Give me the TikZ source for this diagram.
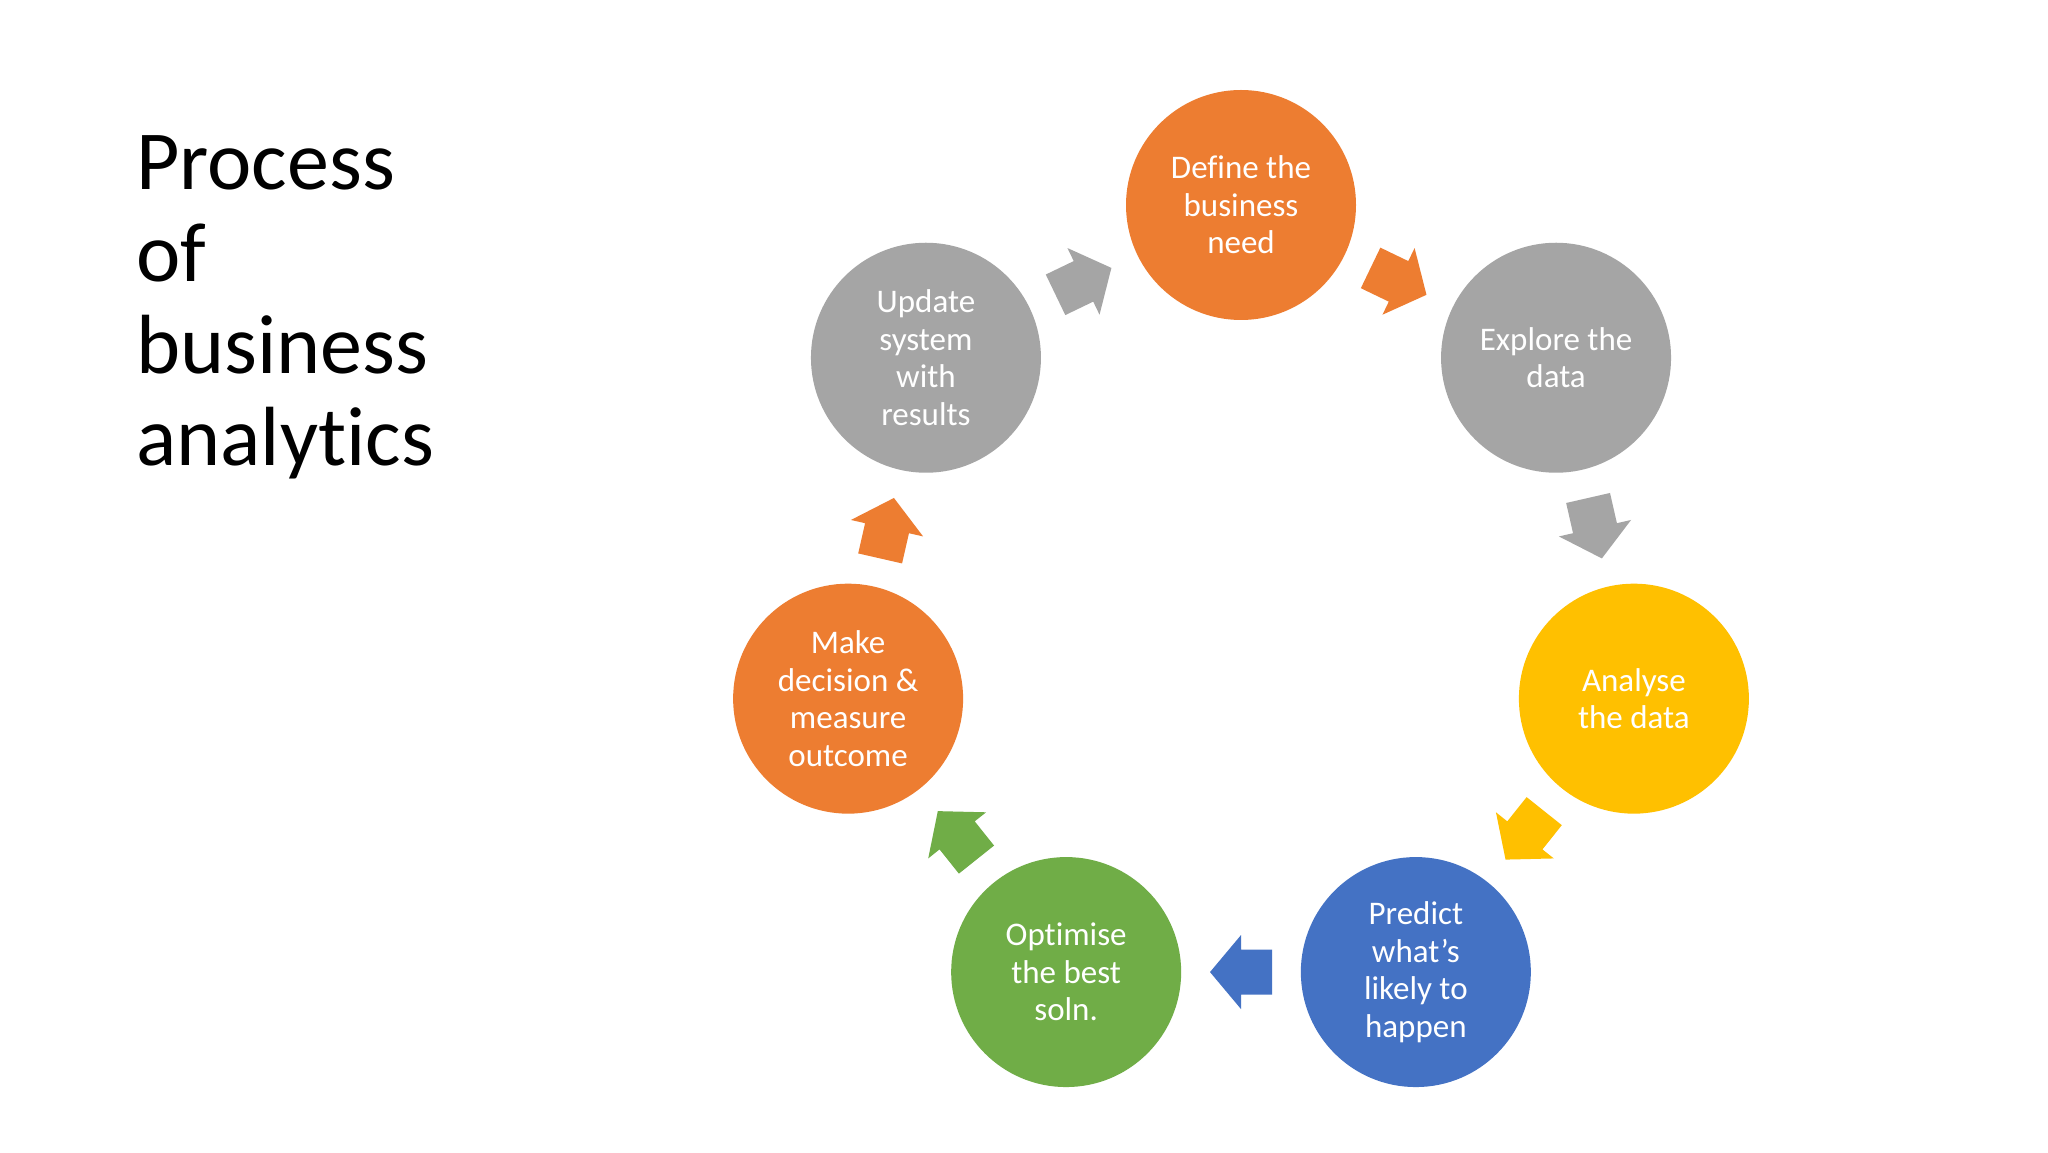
\documentclass[tikz,border=0pt]{standalone}
\usepackage{fontspec}
\setmainfont[Ligatures=NoCommon]{Carlito}
\usetikzlibrary{calc}
\definecolor{orng}{HTML}{ED7D31}
\definecolor{gry}{HTML}{A5A5A5}
\definecolor{yel}{HTML}{FFC000}
\definecolor{blu}{HTML}{4472C4}
\definecolor{grn}{HTML}{70AD47}
\tikzset{
  stepcircle/.style={circle, minimum size=230pt, inner sep=0pt, fill=#1, text=white,
    font=\fontsize{33}{37.5}\selectfont, align=center},
  titletext/.style={font=\fontsize{84}{92}\selectfont, align=left, inner sep=0pt, text=black}
}
\begin{document}
\begin{tikzpicture}[x=1pt,y=1pt]
\useasboundingbox[fill=white] (0,0) rectangle (2048,1152);
\coordinate (c) at (1241,543);
\node[titletext, anchor=north west] (title) at (136,1017) {Process\\of\\business\\analytics};
\node[stepcircle=orng] (def) at ($(c)+(90:403)+(0,1)$) {Define the\\business\\need};
\node[stepcircle=gry]  (exp) at ($(c)+(38.5714:403)$) {Explore the\\data};
\node[stepcircle=yel]  (ana) at ($(c)+(-12.8571:403)$) {Analyse\\the data};
\node[stepcircle=blu]  (pre) at ($(c)+(-64.2857:403)$) {Predict\\what’s\\likely to\\happen};
\node[stepcircle=grn]  (opt) at ($(c)+(-115.7143:403)$) {Optimise\\the best\\soln.};
\node[stepcircle=orng] (mak) at ($(c)+(-167.1429:403)$) {Make\\decision \&\\measure\\outcome};
\node[stepcircle=gry]  (upd) at ($(c)+(-218.5714:403)$) {Update\\system\\with\\results};
\foreach \i/\j/\col [count=\k from 0] in {def/exp/orng, exp/ana/gry, ana/pre/yel, pre/opt/blu, opt/mak/grn, mak/upd/orng, upd/def/gry} {
  \fill[\col, shift={($(\i)!0.5!(\j)$)}, rotate={-51.4286*(\k+0.5)}]
    (-31,-22.5) -- (0,-22.5) -- (0,-37) -- (31,0) -- (0,37) -- (0,22.5) -- (-31,22.5) -- cycle;
}
\end{tikzpicture}
\end{document}
